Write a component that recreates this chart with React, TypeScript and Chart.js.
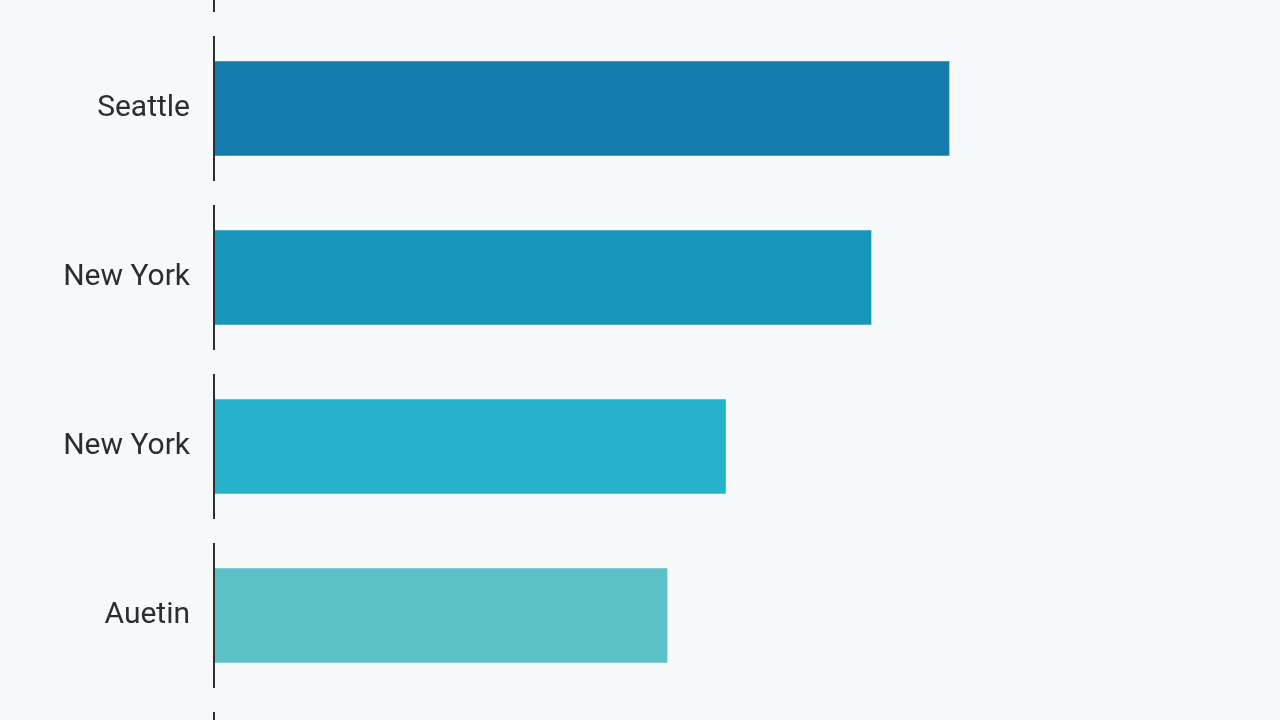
import React, { useEffect, useRef } from "react";
import { Chart, registerables } from "chart.js";

Chart.register(...registerables);

// Categories (first and last are partially visible empty bands, cropped out of view)
const categories: string[] = ["", "Seattle", "New York", "New York", "Auetin", ""];
const values: (number | null)[] = [null, 4.9, 4.38, 3.41, 3.02, null];
const barColors: string[] = ["#000000", "#147cad", "#1795bb", "#27b2cb", "#5bc1c6", "#000000"];

const BG = "#f8f9fb";

const segmentedAxis = {
  id: "segmentedAxis",
  afterDatasetsDraw(chart: any) {
    const { ctx, chartArea, scales } = chart;
    const y = scales.y;
    const n = categories.length;
    const band = y.height / n;
    const half = (band - 24) / 2;
    ctx.save();
    ctx.strokeStyle = "#2b2e33";
    ctx.lineWidth = 2;
    for (let i = 0; i < n; i++) {
      const cy = y.getPixelForValue(i);
      ctx.beginPath();
      ctx.moveTo(chartArea.left, cy - half);
      ctx.lineTo(chartArea.left, cy + half);
      ctx.stroke();
    }
    ctx.restore();
  },
};

export default function App() {
  const ref = useRef<HTMLCanvasElement | null>(null);

  useEffect(() => {
    document.body.style.margin = "0";
    document.body.style.background = BG;
    const canvas = ref.current;
    if (!canvas) return;
    const chart = new Chart(canvas, {
      type: "bar",
      data: {
        labels: categories,
        datasets: [
          {
            data: values,
            backgroundColor: barColors,
            borderWidth: 0,
            barThickness: 94,
          },
        ],
      },
      options: {
        indexAxis: "y",
        animation: false,
        responsive: true,
        maintainAspectRatio: false,
        layout: { padding: { left: 0, right: 16, top: 0, bottom: 0 } },
        plugins: {
          legend: { display: false },
          tooltip: { enabled: false },
          title: { display: false },
        },
        scales: {
          x: {
            type: "linear",
            min: 0,
            max: 7,
            display: false,
          },
          y: {
            type: "category",
            offset: true,
            grid: { display: false, drawTicks: false },
            border: { display: false },
            ticks: {
              padding: 24,
              color: "#2a2d33",
              font: { family: "Roboto, 'Noto Sans', sans-serif", size: 30 },
            },
            afterFit(scale: any) {
              scale.width = 214;
              scale.paddingTop = 0;
              scale.paddingBottom = 0;
            },
          },
        },
      },
      plugins: [segmentedAxis],
    } as any);
    return () => chart.destroy();
  }, []);

  return (
    <div
      style={{
        position: "relative",
        width: 1280,
        height: 720,
        overflow: "hidden",
        background: BG,
      }}
    >
      <div style={{ position: "absolute", left: 0, top: -145, width: 1280, height: 1014 }}>
        <canvas ref={ref} />
      </div>
    </div>
  );
}
